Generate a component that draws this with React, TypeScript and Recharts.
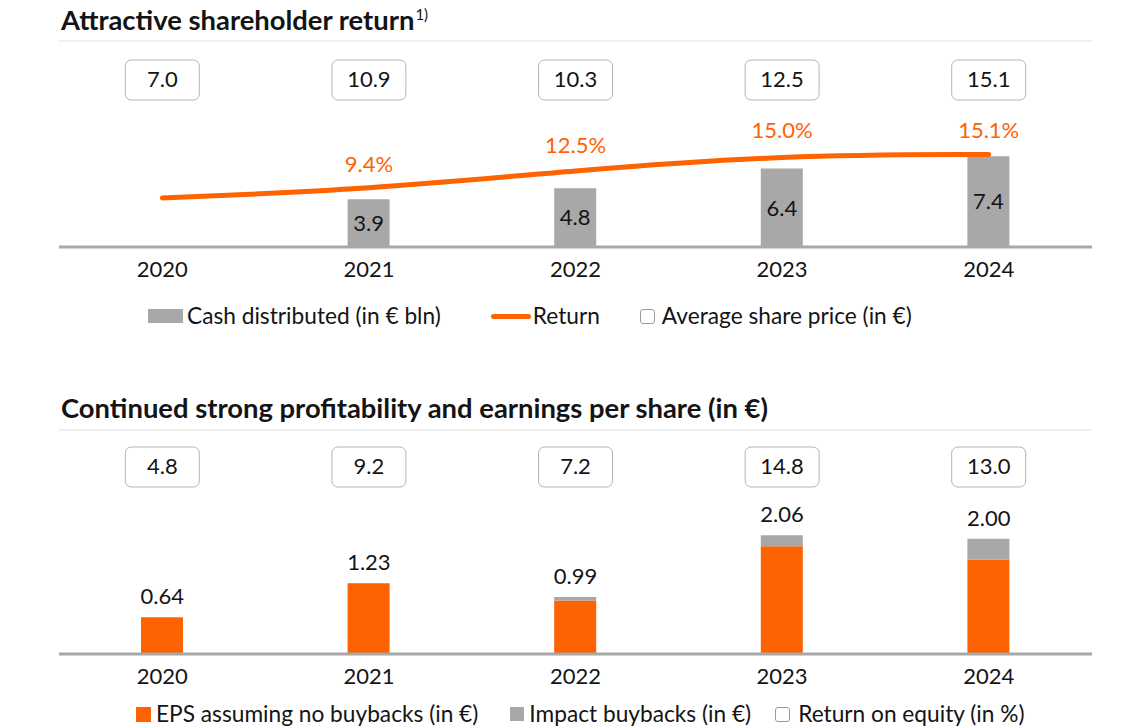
import React from "react";
import { ComposedChart, Bar, Line, XAxis, YAxis, LabelList } from "recharts";

// values
const years = ["2020", "2021", "2022", "2023", "2024"];
const cashDistributed = [null, 3.9, 4.8, 6.4, 7.4];
const shareholderReturn = [8.0, 9.4, 12.5, 15.0, 15.1];
const returnLabels = ["", "9.4%", "12.5%", "15.0%", "15.1%"];
const avgSharePrice = [7.0, 10.9, 10.3, 12.5, 15.1];

const epsNoBuybacks = [0.64, 1.23, 0.93, 1.87, 1.64];
const buybackImpact = [0, 0, 0.06, 0.19, 0.36];
const epsTotal = [0.64, 1.23, 0.99, 2.06, 2.0];
const returnOnEquity = [4.8, 9.2, 7.2, 14.8, 13.0];

const ORANGE = "#FF6200";
const GREY = "#A8A8A8";
const TEXT = "#141414";
const FONT = "Lato, 'Noto Sans', sans-serif";

const topData = years.map((year, i) => ({
  year,
  cash: cashDistributed[i],
  ret: shareholderReturn[i],
  retLabel: returnLabels[i],
}));

const bottomData = years.map((year, i) => ({
  year,
  eps: epsNoBuybacks[i],
  impact: buybackImpact[i],
  total: epsTotal[i],
}));

const boxTick = (values: number[]) => (props: any) => {
  const { x, y, payload } = props;
  const v = values[years.indexOf(payload.value)];
  return (
    <g>
      <rect x={x - 37} y={y - 40} width={74} height={40} rx={6} fill="#fff" stroke="#B4B4B4" strokeWidth={1} />
      <text x={x} y={y - 22} textAnchor="middle" dominantBaseline="central" fontSize={22} fill={TEXT}>
        {v.toFixed(1)}
      </text>
    </g>
  );
};

const Title = ({ top, lineTop, children }: any) => (
  <>
    <div
      style={{
        position: "absolute",
        left: 61,
        top,
        fontSize: 27.4,
        lineHeight: "27px",
        fontWeight: 700,
        color: TEXT,
        whiteSpace: "nowrap",
      }}
    >
      {children}
    </div>
    <div style={{ position: "absolute", left: 59, top: lineTop, width: 1033, height: 2, background: "#EFEFEF" }} />
  </>
);

const LegendText = ({ children }: any) => (
  <span style={{ fontSize: 22.7, lineHeight: "22px", color: TEXT, whiteSpace: "nowrap" }}>{children}</span>
);

const CheckBox = () => (
  <span
    style={{
      display: "inline-block",
      width: 15,
      height: 15,
      border: "1px solid #9A9A9A",
      borderRadius: 3,
      background: "#fff",
      boxSizing: "border-box",
    }}
  />
);

export default function App() {
  return (
    <div style={{ position: "relative", width: 1142, height: 728, fontFamily: FONT, background: "#fff" }}>
      <style>{`body{margin:0}`}</style>

      <Title top={6} lineTop={40}>
        Attractive shareholder return
        <span style={{ fontSize: 15, fontWeight: 400, position: "relative", top: -10, marginLeft: 1 }}>1)</span>
      </Title>

      <div style={{ position: "absolute", left: 0, top: 0 }}>
        <ComposedChart
          width={1142}
          height={300}
          data={topData}
          margin={{ top: 60, right: 50, left: 59, bottom: 20 }}
          style={{ fontFamily: FONT }}
        >
          <XAxis
            xAxisId="top"
            orientation="top"
            dataKey="year"
            height={40}
            axisLine={false}
            tickLine={false}
            tickSize={0}
            tickMargin={0}
            interval={0}
            tick={boxTick(avgSharePrice)}
          />
          <XAxis
            dataKey="year"
            height={33}
            axisLine={{ stroke: GREY, strokeWidth: 3 }}
            tickLine={false}
            tickSize={0}
            tickMargin={14}
            interval={0}
            tick={{ fill: TEXT, fontSize: 22 }}
          />
          <YAxis yAxisId="bar" hide domain={[0, 12]} />
          <YAxis yAxisId="line" hide domain={[0, 24]} />
          <Bar yAxisId="bar" dataKey="cash" fill={GREY} barSize={42} isAnimationActive={false}>
            <LabelList dataKey="cash" position="center" fill={TEXT} fontSize={22} />
          </Bar>
          <Line
            yAxisId="line"
            type="basis"
            dataKey="ret"
            stroke={ORANGE}
            strokeWidth={5}
            strokeLinecap="round"
            dot={false}
            activeDot={false}
            isAnimationActive={false}
          >
            <LabelList dataKey="retLabel" position="top" offset={17} fill={ORANGE} fontSize={22} />
          </Line>
        </ComposedChart>
      </div>

      <div style={{ position: "absolute", left: 148, top: 305, display: "flex", alignItems: "center", height: 22 }}>
        <span style={{ display: "inline-block", width: 35, height: 14, background: GREY, marginRight: 4 }} />
        <LegendText>Cash distributed (in € bln)</LegendText>
        <span
          style={{ display: "inline-block", width: 40, height: 5, borderRadius: 3, background: ORANGE, marginLeft: 50, marginRight: 2 }}
        />
        <LegendText>Return</LegendText>
        <span style={{ marginLeft: 40, marginRight: 7, display: "inline-flex" }}>
          <CheckBox />
        </span>
        <LegendText>Average share price (in €)</LegendText>
      </div>

      <Title top={394} lineTop={429}>
        Continued strong profitability and earnings per share (in €)
      </Title>

      <div style={{ position: "absolute", left: 0, top: 387 }}>
        <ComposedChart
          width={1142}
          height={320}
          data={bottomData}
          margin={{ top: 60, right: 50, left: 59, bottom: 20 }}
          style={{ fontFamily: FONT }}
        >
          <XAxis
            xAxisId="top"
            orientation="top"
            dataKey="year"
            height={40}
            axisLine={false}
            tickLine={false}
            tickSize={0}
            tickMargin={0}
            interval={0}
            tick={boxTick(returnOnEquity)}
          />
          <XAxis
            dataKey="year"
            height={33}
            axisLine={{ stroke: GREY, strokeWidth: 3 }}
            tickLine={false}
            tickSize={0}
            tickMargin={14}
            interval={0}
            tick={{ fill: TEXT, fontSize: 22 }}
          />
          <YAxis hide domain={[0, 2.9]} />
          <Bar dataKey="eps" stackId="eps" fill={ORANGE} barSize={42} isAnimationActive={false} />
          <Bar dataKey="impact" stackId="eps" fill={GREY} barSize={42} isAnimationActive={false} />
          {/* invisible series carrying the EPS total labels above each stack */}
          <Line
            dataKey="total"
            stroke="none"
            dot={false}
            activeDot={false}
            legendType="none"
            isAnimationActive={false}
          >
            <LabelList
              dataKey="total"
              position="top"
              offset={13}
              fill={TEXT}
              fontSize={22}
              formatter={(v: any) => Number(v).toFixed(2)}
            />
          </Line>
        </ComposedChart>
      </div>

      <div style={{ position: "absolute", left: 136, top: 703, display: "flex", alignItems: "center", height: 22 }}>
        <span style={{ display: "inline-block", width: 15, height: 15, background: ORANGE, marginRight: 5 }} />
        <LegendText>EPS assuming no buybacks (in €)</LegendText>
        <span style={{ display: "inline-block", width: 14, height: 14, background: GREY, marginLeft: 32, marginRight: 5 }} />
        <LegendText>Impact buybacks (in €)</LegendText>
        <span style={{ marginLeft: 24, marginRight: 8, display: "inline-flex" }}>
          <CheckBox />
        </span>
        <LegendText>Return on equity (in %)</LegendText>
      </div>
    </div>
  );
}
